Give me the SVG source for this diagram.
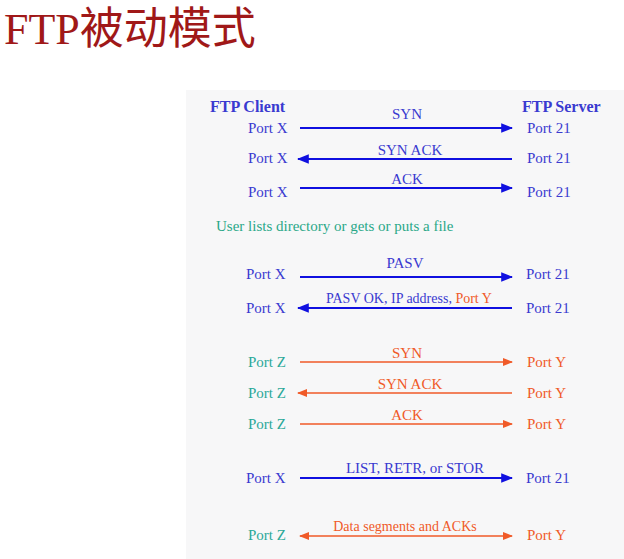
<svg xmlns="http://www.w3.org/2000/svg" width="624" height="559" viewBox="0 0 624 559">
<defs>
<marker id="ab" viewBox="0 0 10 10" refX="9" refY="5" markerWidth="6" markerHeight="6" orient="auto-start-reverse"><path d="M0,1 L10,5 L0,9 z" fill="#1010e0"/></marker>
<marker id="ao" viewBox="0 0 10 10" refX="9" refY="5" markerWidth="7" markerHeight="7" orient="auto-start-reverse"><path d="M0,1 L10,5 L0,9 z" fill="#f05a28"/></marker>
<style>
text{font-family:"Liberation Serif","Noto Sans CJK SC",serif;font-size:15px}
.b{fill:#3a3ad0}.g{fill:#2aa898}.o{fill:#f05a28}.t{fill:#2aa888}
.h{font-weight:bold;font-size:16px;fill:#3a3ad0}
.lb{stroke:#1010e0;stroke-width:2;fill:none}
.lo{stroke:#f05a28;stroke-width:1.5;fill:none}
.m{text-anchor:middle}
</style>
</defs>
<rect width="624" height="559" fill="#fff"/>
<rect x="186" y="90" width="438" height="469" fill="#f7f7f8"/>
<text x="4" y="44" style="font-size:44px;fill:#a01818">FTP被动模式</text>
<g id="headers"><text x="210" y="112" class="h">FTP Client</text><text x="522" y="112" class="h">FTP Server</text></g>
<g id="nodes">
<text x="248" y="133" class="b">Port X</text><text x="527" y="133" class="b">Port 21</text>
<text x="248" y="163" class="b">Port X</text><text x="527" y="163" class="b">Port 21</text>
<text x="248" y="197" class="b">Port X</text><text x="527" y="197" class="b">Port 21</text>
<text x="216" y="231" class="t">User lists directory or gets or puts a file</text>
<text x="246" y="279" class="b">Port X</text><text x="526" y="279" class="b">Port 21</text>
<text x="246" y="313" class="b">Port X</text><text x="526" y="313" class="b">Port 21</text>
<text x="248" y="367" class="g">Port Z</text><text x="527" y="367" class="o">Port Y</text>
<text x="248" y="398" class="g">Port Z</text><text x="527" y="398" class="o">Port Y</text>
<text x="248" y="429" class="g">Port Z</text><text x="527" y="429" class="o">Port Y</text>
<text x="246" y="483" class="b">Port X</text><text x="526" y="483" class="b">Port 21</text>
<text x="248" y="540" class="g">Port Z</text><text x="527" y="540" class="o">Port Y</text>
</g>
<g id="connectors">
<line x1="300" y1="128" x2="512" y2="128" class="lb" marker-end="url(#ab)"/>
<line x1="512" y1="159" x2="298" y2="159" class="lb" marker-end="url(#ab)"/>
<line x1="300" y1="188" x2="512" y2="188" class="lb" marker-end="url(#ab)"/>
<line x1="300" y1="277" x2="512" y2="277" class="lb" marker-end="url(#ab)"/>
<line x1="512" y1="308" x2="298" y2="308" class="lb" marker-end="url(#ab)"/>
<line x1="300" y1="362" x2="512" y2="362" class="lo" marker-end="url(#ao)"/>
<line x1="512" y1="393" x2="298" y2="393" class="lo" marker-end="url(#ao)"/>
<line x1="300" y1="424" x2="512" y2="424" class="lo" marker-end="url(#ao)"/>
<line x1="300" y1="478" x2="512" y2="478" class="lb" stroke-width="1.5" marker-end="url(#ab)"/>
<line x1="300" y1="536" x2="512" y2="536" class="lo" marker-start="url(#ao)" marker-end="url(#ao)"/>
</g>
<g id="labels">
<text x="407" y="119" class="b m">SYN</text>
<text x="410" y="155" class="b m">SYN ACK</text>
<text x="407" y="184" class="b m">ACK</text>
<text x="405" y="268" class="b m">PASV</text>
<text x="326" y="303" class="b" style="font-size:14px">PASV OK, IP address, <tspan class="o">Port Y</tspan></text>
<text x="407" y="358" class="o m">SYN</text>
<text x="410" y="389" class="o m">SYN ACK</text>
<text x="407" y="420" class="o m">ACK</text>
<text x="415" y="473" class="b m">LIST, RETR, or STOR</text>
<text x="405" y="531" class="o m" style="font-size:14px">Data segments and ACKs</text>
</g>
</svg>
